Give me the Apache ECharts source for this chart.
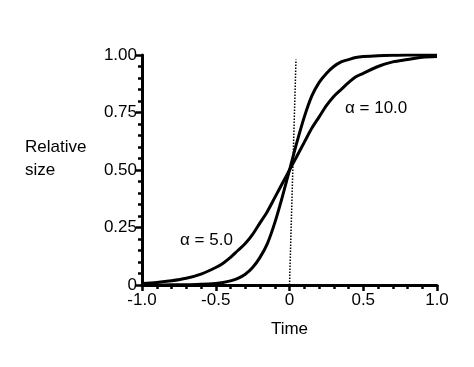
<!DOCTYPE html>
<html>
<head>
<meta charset="utf-8">
<script src="https://cdn.jsdelivr.net/npm/echarts@6/dist/echarts.min.js"></script>
<style>
html, body { margin: 0; padding: 0; background: #fff; }
#main { width: 474px; height: 367px; }
</style>
</head>
<body>
<div id="main"></div>
<script>
var dom = document.getElementById("main");
var myChart = echarts.init(dom);

// values
var timeSteps = [-1.0, -0.9, -0.8, -0.7, -0.6, -0.5, -0.45, -0.4, -0.35, -0.3, -0.25, -0.2, -0.15, -0.1, -0.05, 0, 0.05, 0.1, 0.15, 0.2, 0.25, 0.3, 0.35, 0.4, 0.45, 0.5, 0.6, 0.7, 0.8, 0.9, 1.0];
var sizeAlpha5 = [0.007, 0.011, 0.018, 0.029, 0.047, 0.076, 0.095, 0.12, 0.15, 0.18, 0.22, 0.27, 0.32, 0.38, 0.44, 0.50, 0.56, 0.62, 0.68, 0.73, 0.78, 0.82, 0.85, 0.88, 0.905, 0.92, 0.95, 0.97, 0.98, 0.99, 0.993];
var sizeAlpha10 = [0.000, 0.000, 0.001, 0.001, 0.003, 0.007, 0.011, 0.018, 0.029, 0.047, 0.076, 0.12, 0.18, 0.27, 0.38, 0.50, 0.62, 0.73, 0.82, 0.88, 0.92, 0.95, 0.97, 0.98, 0.989, 0.993, 0.997, 0.999, 1.0, 1.0, 1.0];
var markerX = [0.0, 0.044];
var markerY = [0.0, 0.98];
var yTicks = ['0', '0.25', '0.50', '0.75', '1.00'];
var xTicks = ['-1.0', '-0.5', '0', '0.5', '1.0'];

function pairs(xs, ys) {
	var out = [];
	for (var i = 0; i < xs.length; i++) {
		out.push([xs[i], ys[i]]);
	}
	return out;
}

var font = 'Liberation Sans, Arial, Helvetica, sans-serif';

var option = {
	animation: false,
	backgroundColor: '#fff',
	grid: {
		left: 142,
		right: 37,
		top: 55,
		bottom: 82
	},
	xAxis: {
		type: 'value',
		min: -1,
		max: 1,
		interval: 0.5,
		name: 'Time',
		nameLocation: 'middle',
		nameGap: 36,
		nameTextStyle: { color: '#000', fontSize: 17, fontFamily: font },
		axisLine: { onZero: false, lineStyle: { color: '#000', width: 3 } },
		axisTick: { length: 6, lineStyle: { color: '#000', width: 2.5 } },
		minorTick: { show: true, splitNumber: 5, length: 4, lineStyle: { color: '#000', width: 2.5 } },
		splitLine: { show: false },
		axisLabel: {
			color: '#000', fontSize: 17, fontFamily: font, margin: 7,
			formatter: function (v) { return xTicks[Math.round((v + 1) / 0.5)]; }
		}
	},
	yAxis: {
		type: 'value',
		min: 0,
		max: 1,
		interval: 0.25,
		axisLine: { show: true, onZero: false, lineStyle: { color: '#000', width: 3 } },
		axisTick: { show: true, length: 6, lineStyle: { color: '#000', width: 2.5 } },
		minorTick: { show: true, splitNumber: 5, length: 4, lineStyle: { color: '#000', width: 2.5 } },
		splitLine: { show: false },
		axisLabel: {
			color: '#000', fontSize: 17, fontFamily: font, margin: 5,
			formatter: function (v) { return yTicks[Math.round(v / 0.25)]; }
		}
	},
	graphic: [
		{ type: 'text', left: 25, top: 136, style: { text: 'Relative\nsize', fill: '#000', fontSize: 17, fontFamily: font, lineHeight: 23 } },
		{ type: 'text', left: 345, top: 100, style: { text: '\u03b1 = 10.0', fill: '#000', fontSize: 17, fontFamily: font } },
		{ type: 'text', left: 180, top: 232, style: { text: '\u03b1 = 5.0', fill: '#000', fontSize: 17, fontFamily: font } }
	],
	series: [
		{
			name: 'alpha 5',
			type: 'line',
			smooth: 0.3,
			symbol: 'none',
			lineStyle: { color: '#000', width: 3 },
			data: pairs(timeSteps, sizeAlpha5)
		},
		{
			name: 'alpha 10',
			type: 'line',
			smooth: 0.3,
			symbol: 'none',
			lineStyle: { color: '#000', width: 3 },
			data: pairs(timeSteps, sizeAlpha10)
		},
		{
			name: 'marker',
			type: 'line',
			symbol: 'none',
			lineStyle: { color: '#000', width: 1.5, type: [1.5, 1.5] },
			data: pairs(markerX, markerY)
		}
	]
};

myChart.setOption(option);
</script>
</body>
</html>
